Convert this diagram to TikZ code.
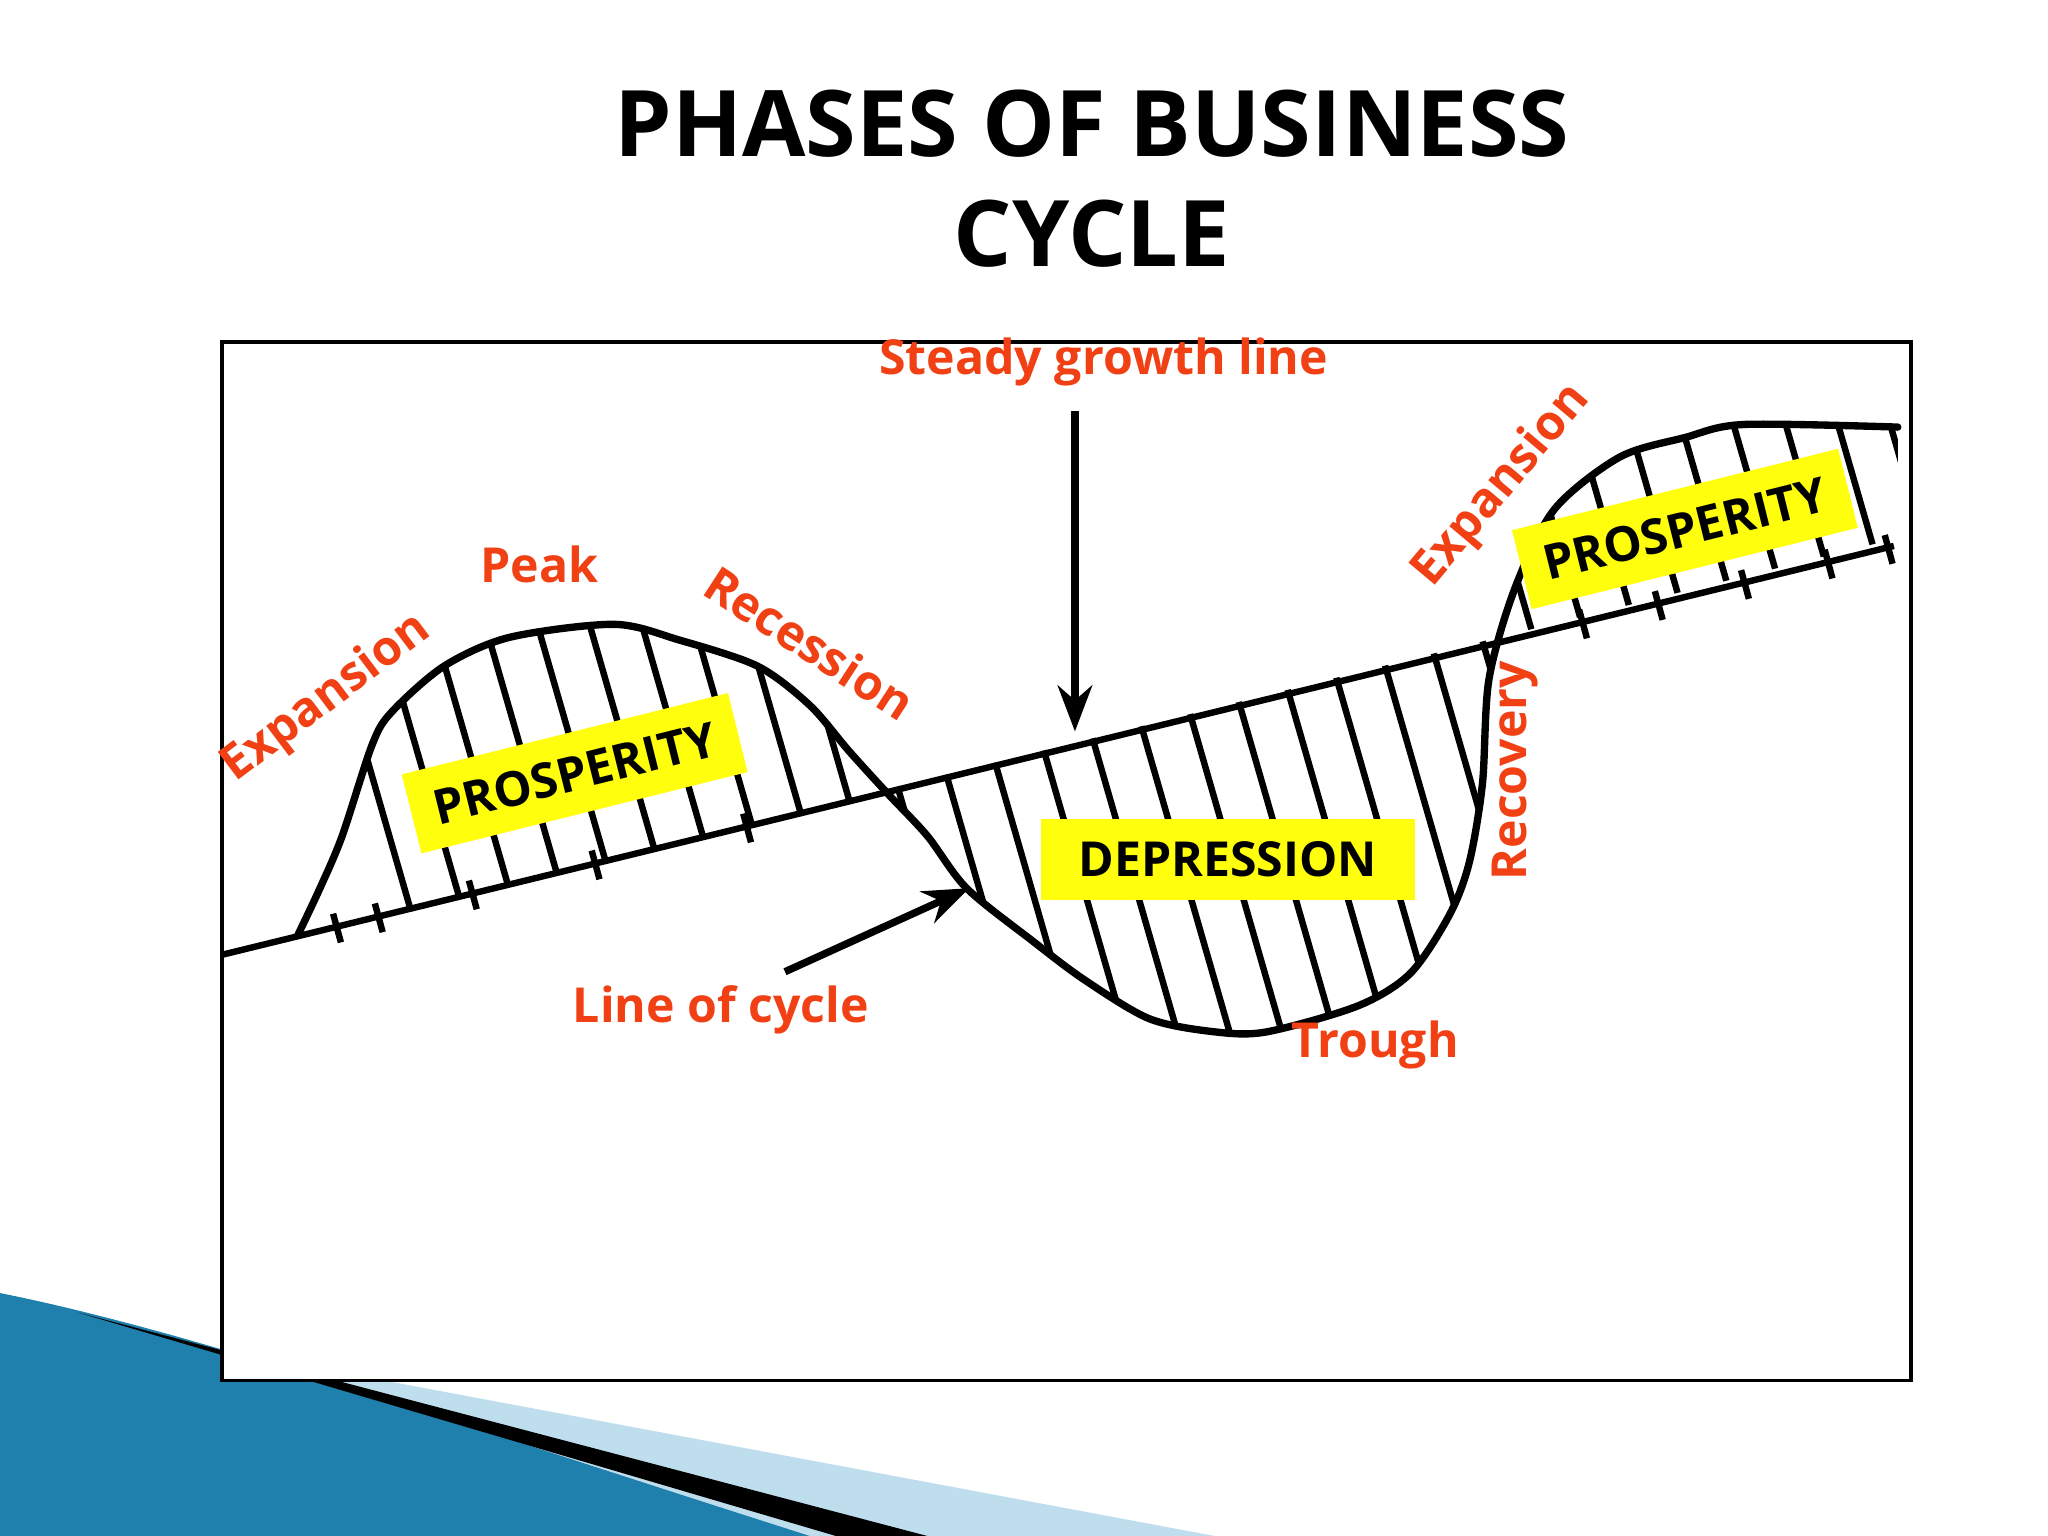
\documentclass[tikz,border=0pt]{standalone}
\usepackage{fontspec}
\setmainfont{Open Sans}
\usepackage{xcolor}
\usetikzlibrary{arrows.meta}

\definecolor{labelred}{rgb}{0.94,0.25,0.08}
\definecolor{boxyellow}{rgb}{1,1,0.05}
\definecolor{swoopblue}{rgb}{0.12,0.50,0.68}
\definecolor{swooplight}{rgb}{0.75,0.87,0.93}

\begin{document}
\begin{tikzpicture}[x = 0.01cm, y = -0.01cm,
                    phaselabel/.style = {text=labelred, font=\fontsize{10.5}{13}\selectfont\bfseries},
                    phasebox/.style = {fill=boxyellow, font=\fontsize{10.5}{13}\selectfont\bfseries, inner sep=5pt},
                    thick line/.style = {line width=1.6pt, line cap=round, line join=round}]

  % PAGE
  \useasboundingbox (0,0) rectangle (1568,1176);

  % SWOOSH
  \fill[swooplight] (150,1030) -- (930,1176) -- (600,1176) -- cycle;
  \fill[swoopblue] (0,990) .. controls (150,1020) and (350,1090) .. (620,1176) -- (0,1176) -- cycle;
  \fill[black] (60,1005) -- (710,1176) -- (640,1176) -- cycle;

  % FRAME
  \draw[line width=0.8pt, fill=white] (170,262) rectangle (1463,1057);

  % TITLE
  \node[font=\fontsize{20}{24}\selectfont\bfseries, align=center] (title) at (836,137)
    {PHASES OF BUSINESS\\CYCLE};

  % HATCHING
  \begin{scope}
    \clip plot[smooth] coordinates {(228,716) (245,680) (262,640) (285,570) (300,545)
      (340,510) (390,488) (470,478) (520,490) (580,510) (620,540) (650,575) (680,608)
      (710,640) (740,680) (790,720) (830,750) (880,780) (930,790) (970,790) (1040,770)
      (1080,745) (1110,700) (1125,660) (1135,600) (1140,520) (1160,450) (1190,390)
      (1240,350) (1290,335) (1335,325) (1453,327)} -- (1453,412) -- (170,731) -- cycle;
    \foreach \x in {200,240,...,1480}
      \draw[line width=1.4pt] (\x,300) -- (\x+150,820);
  \end{scope}
  \foreach \x in {258,290,362,456,572,1212,1270,1336,1400,1446}
    \draw[line width=1.4pt] (\x-3,{731-0.244*(\x-170)-10}) -- (\x+3,{731-0.244*(\x-170)+12});

  % STEADY GROWTH LINE
  \coordinate (g0) at (170,731);
  \coordinate (g1) at (1450,418);
  \draw[line width=1.4pt] (g0) -- (g1);

  % LINE OF CYCLE
  \draw[thick line] plot[smooth] coordinates {(228,716) (245,680) (262,640) (285,570)
    (300,545) (340,510) (390,488) (470,478) (520,490) (580,510) (620,540) (650,575)
    (680,608) (710,640) (740,680) (790,720) (830,750) (880,780) (930,790) (970,790)
    (1040,770) (1080,745) (1110,700) (1125,660) (1135,600) (1140,520) (1160,450)
    (1190,390) (1240,350) (1290,335) (1335,325) (1453,327)};

  % BOXES
  \node[phasebox, rotate=14] (prosLeft) at (440,592) {PROSPERITY};
  \node[phasebox, rotate=14] (prosRight) at (1290,405) {PROSPERITY};
  \node[phasebox, minimum width=2.86cm, minimum height=0.6cm] (depr) at (940,658) {DEPRESSION};

  % LABELS
  \node[phaselabel] (steady) at (845,277) {Steady growth line};
  \node[phaselabel] (cycle) at (552,773) {Line of cycle};
  \node[phaselabel, rotate=37] (expLeft) at (250,535) {Expansion};
  \node[phaselabel] (peak) at (413,432) {Peak};
  \node[phaselabel, rotate=-33] (recess) at (620,492) {Recession};
  \node[phaselabel] (trough) at (1053,800) {Trough};
  \node[phaselabel, rotate=90] (recov) at (1160,590) {Recovery};
  \node[phaselabel, rotate=50] (expRight) at (1150,372) {Expansion};

  % ARROWS
  \coordinate (steadyTip) at (823,560);
  \coordinate (cycleTip) at (742,680);
  \draw[line width=1.6pt, -{Stealth[length=10pt]}] (823,315) -- (steadyTip);
  \draw[line width=1.6pt, -{Stealth[length=10pt]}] (601,744) -- (cycleTip);

\end{tikzpicture}
\end{document}
